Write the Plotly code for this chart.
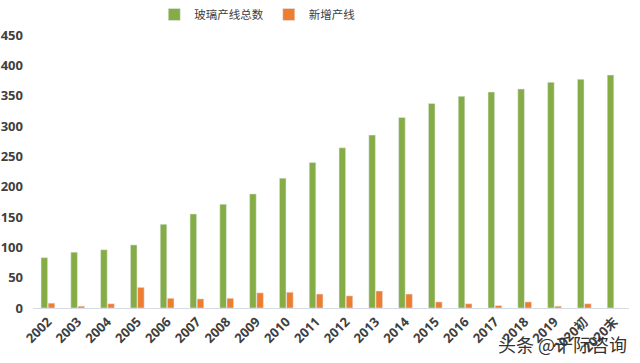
import plotly.graph_objects as go

categories = ["2002", "2003", "2004", "2005", "2006", "2007", "2008", "2009", "2010", "2011",
              "2012", "2013", "2014", "2015", "2016", "2017", "2018", "2019", "2020初", "2020末"]
total_lines = [83, 92, 96, 104, 138, 155, 171, 188, 214, 240,
               264, 285, 314, 337, 349, 356, 361, 372, 377, 384]
new_lines = [8, 3, 7, 34, 16, 15, 16, 25, 26, 23,
             20, 28, 23, 10, 7, 4, 10, 3, 7, 0]
y_ticks = [0, 50, 100, 150, 200, 250, 300, 350, 400, 450]

fig = go.Figure()
fig.add_trace(go.Bar(x=categories, y=total_lines, name="玻璃产线总数", marker_color="#86AD45"))
fig.add_trace(go.Bar(x=categories, y=new_lines, name="新增产线", marker_color="#ED7D31"))

fig.update_layout(
    width=640, height=363,
    barmode="group", bargap=0.52, bargroupgap=0.08,
    plot_bgcolor="white", paper_bgcolor="white",
    margin=dict(l=33, r=11, t=35, b=55),
    font=dict(family="Open Sans, Noto Sans CJK SC, sans-serif", color="#404040"),
    legend=dict(orientation="h", x=0.402, xanchor="center", xref="container",
                y=1.0, yanchor="top", yref="container",
                font=dict(size=11.5, color="#404040"), itemwidth=30, traceorder="normal",
                tracegroupgap=0),
    xaxis=dict(tickangle=-45, automargin=False,
               tickfont=dict(size=13, color="#404040", family="Open Sans, Noto Sans CJK SC, sans-serif", weight="bold"),
               showline=True, linecolor="#D6DCE5", linewidth=1, ticks="", showgrid=False),
    yaxis=dict(range=[0, 450], tickvals=y_ticks, showgrid=False, zeroline=False, automargin=False,
               tickfont=dict(size=13, color="#404040", family="Open Sans, sans-serif", weight="bold"),
               ticks="", ticklabelstandoff=9),
)
fig.add_annotation(text="头条 @千际咨询", xref="paper", yref="paper", x=1.0, y=-0.132,
                   xanchor="right", yanchor="middle", showarrow=False,
                   font=dict(size=18, color="#333333", family="Noto Sans CJK SC"))
fig.write_html("out.html", config={"displayModeBar": False},
               post_script="document.body.style.margin='0';")
